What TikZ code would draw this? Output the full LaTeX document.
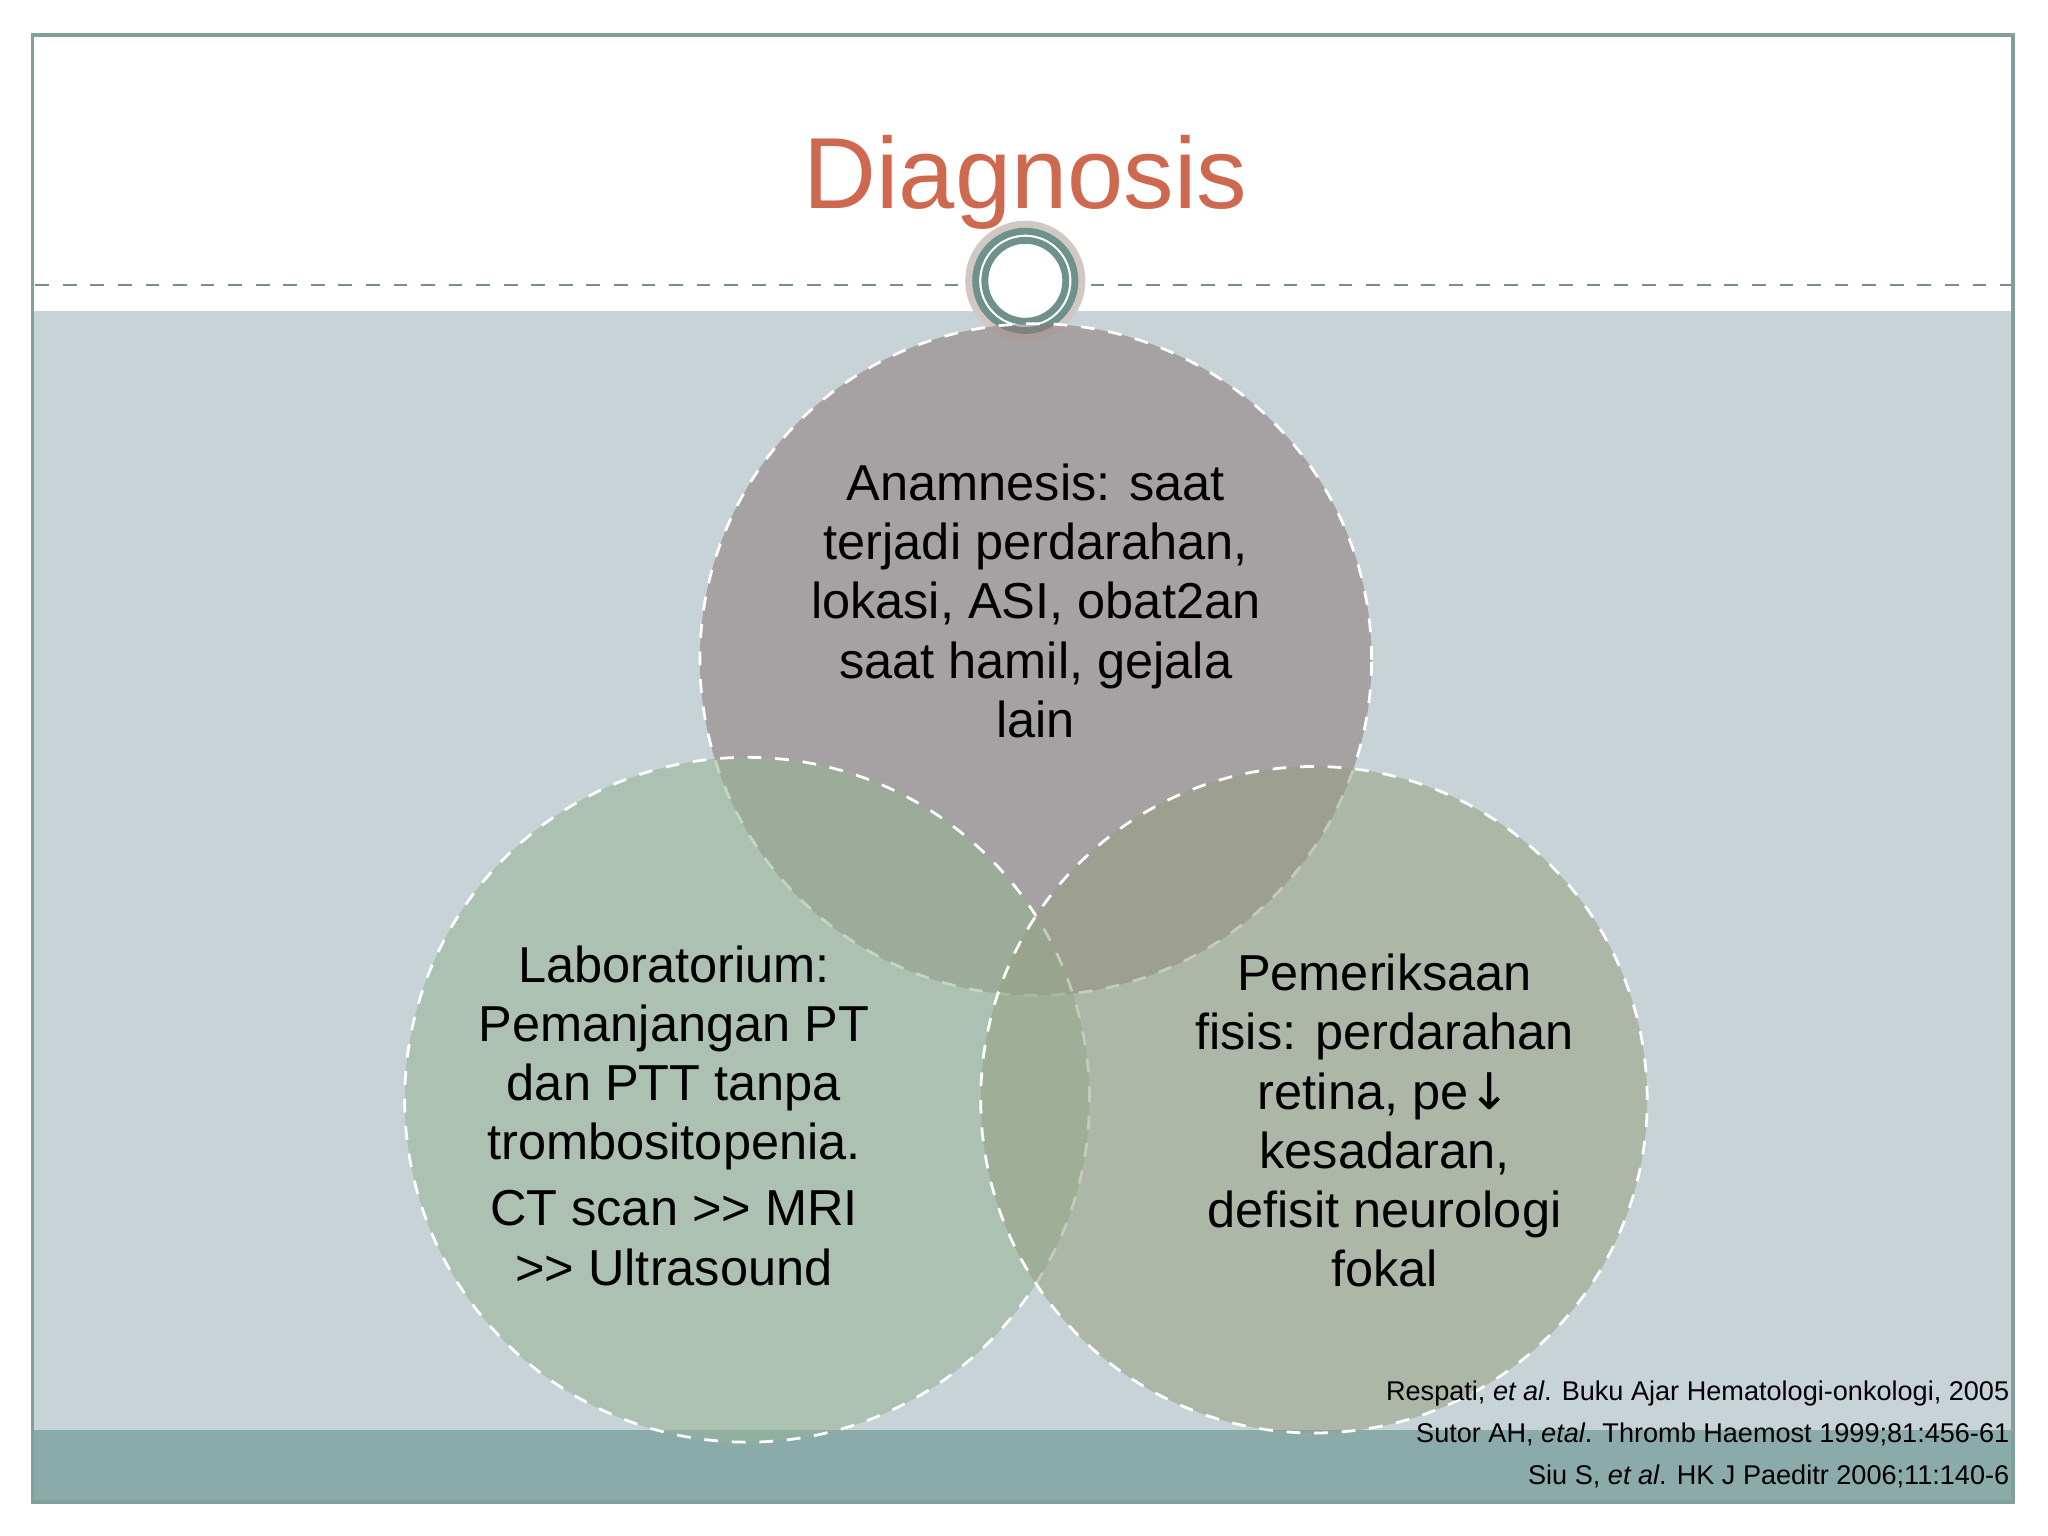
\documentclass[tikz,border=0pt]{standalone}
\usepackage{fontspec}
\setmainfont{Liberation Sans}
\begin{document}
\begin{tikzpicture}[x=0.01cm,y=-0.01cm,
  circ/.style={circle,draw=white,dashed,line width=0.6pt,fill opacity=0.55},
  body/.style={align=center,font=\fontsize{11}{12.9}\selectfont,text=black},
  refs/.style={anchor=east,inner sep=0pt,font=\fontsize{5.9}{6.5}\selectfont}]
\useasboundingbox (0,0) rectangle (1568,1176);
\fill[white] (0,0) rectangle (1568,1176);
\fill[white] (25,27) rectangle (1541,1150);
\fill[fill={rgb,255:red,199;green,211;blue,214}] (25,238) rectangle (1541,1095);
\fill[fill={rgb,255:red,139;green,171;blue,171}] (25,1095) rectangle (1541,1150);
\draw[draw={rgb,255:red,130;green,160;blue,155},line width=0.8pt] (25,27) rectangle (1541,1150);
\coordinate (dl) at (27,218); \coordinate (dr) at (1540,218);
\coordinate (dm1) at (735,218); \coordinate (dm2) at (835,218);
\draw[dashed,draw={rgb,255:red,120;green,140;blue,140},line width=0.5pt] (dl) -- (dm1) (dm2) -- (dr);
\fill[fill={rgb,255:red,210;green,200;blue,195}] (785,215) circle (46);
\fill[white] (785,215) circle (40);
\draw[draw={rgb,255:red,110;green,145;blue,140},line width=1.5pt] (785,215) circle (38);
\draw[draw={rgb,255:red,110;green,145;blue,140},line width=1.5pt] (785,215) circle (31);
\node[font=\fontsize{22}{24}\selectfont,text={rgb,255:red,206;green,104;blue,79}] (title) at (785,140) {Diagnosis};
\node[circ,fill={rgb,255:red,140;green,120;blue,120},minimum size=5.14cm] (c1) at (793,505) {};
\node[circ,fill={rgb,255:red,150;green,180;blue,150},minimum size=5.24cm] (c2) at (572,842) {};
\node[circ,fill={rgb,255:red,150;green,160;blue,130},minimum size=5.10cm] (c3) at (1006,842) {};
\node[body] (t1) at (793,460) {Anamnesis: saat\\terjadi perdarahan,\\lokasi, ASI, obat2an\\saat hamil, gejala\\lain};
\node[body] (t2) at (516,810) {Laboratorium:\\Pemanjangan PT\\dan PTT tanpa\\trombositopenia.};
\node[body] (t2b) at (516,948) {CT scan {>}{>} MRI\\{>}{>} Ultrasound};
\node[body] (t3) at (1060,858) {Pemeriksaan\\fisis: perdarahan\\retina, pe{\fontspec{DejaVu Sans}↓}\\kesadaran,\\defisit neurologi\\fokal};
\node[refs] (r1) at (1539,1067) {Respati, \textit{et al}. Buku Ajar Hematologi-onkologi, 2005};
\node[refs] (r2) at (1539,1098) {Sutor AH, \textit{etal}. Thromb Haemost 1999;81:456-61};
\node[refs] (r3) at (1539,1130) {Siu S, \textit{et al}. HK J Paeditr 2006;11:140-6};
\end{tikzpicture}
\end{document}
